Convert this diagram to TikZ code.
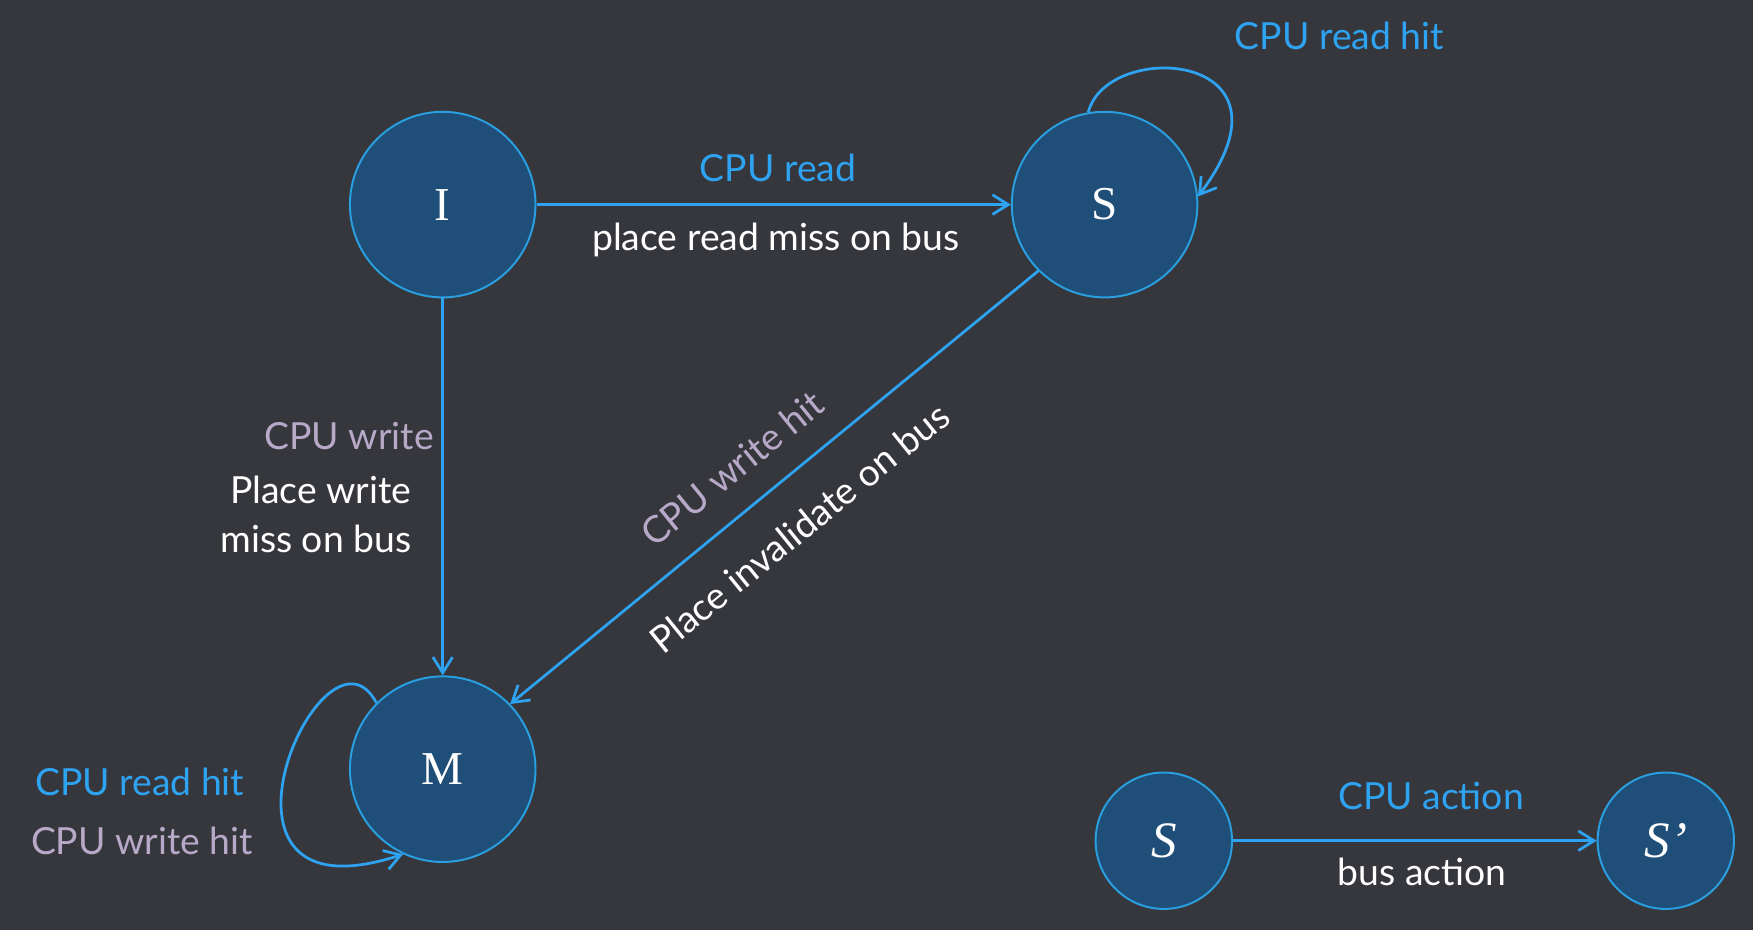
\documentclass[tikz,border=0pt]{standalone}
\usepackage{fontspec}
\setmainfont{Lato}
\usetikzlibrary{arrows.meta}
\definecolor{bg}{HTML}{36373D}
\definecolor{nfill}{HTML}{1F4E79}
\definecolor{nline}{HTML}{2A9FE0}
\definecolor{ablue}{HTML}{2EA3F2}
\definecolor{gp}{HTML}{B8A9C9}
\newfontfamily\serifnode{Liberation Serif}
\begin{document}
\begin{tikzpicture}[x=0.02cm,y=-0.02cm,
 st/.style={circle,draw=nline,fill=nfill,line width=1pt,minimum size=166*0.02cm,inner sep=0pt,text=white,font=\serifnode\fontsize{24}{28}\selectfont},
 sm/.style={st,minimum size=122*0.02cm,font=\serifnode\itshape\fontsize{26}{30}\selectfont},
 ar/.style={draw=ablue,line width=1.4pt,-{Straight Barb[length=8pt,width=10pt]}},
 lb/.style={font=\fontsize{19}{23}\selectfont,inner sep=1pt},
 bl/.style={lb,text=ablue}, wt/.style={lb,text=white}, gr/.style={lb,text=gp}]
\fill[bg] (0,0) rectangle (1568,832);
\useasboundingbox (0,0) rectangle (1568,832);
\node[st] (I) at (396,183) {I};
\node[st] (S) at (988,183) {S};
\node[st] (M) at (396,688) {M};
\node[sm] (a) at (1041,752) {S};
\node[sm] (b) at (1490,752) {S’};
\draw[ar] (I) -- (S);
\draw[ar] (I) -- (M);
\draw[ar] (S.225) -- (M.44);
\draw[ar] (a) -- (b);
\draw[ar] (S.100) .. controls (990,35) and (1170,45) .. (S.5);
\draw[ar] (M.135) .. controls (290,540) and (160,830) .. (M.245);
\node[bl] (t1) at (1198,32) {CPU read hit};
\node[bl] (t2) at (696,150) {CPU read};
\node[wt] (t3) at (694,215) {place read miss on bus};
\node[gr,anchor=east] (t4) at (390,390) {CPU write};
\node[wt,anchor=east,align=right] (t5) at (370,460) {Place write\\[2pt]miss on bus};
\node[gr,rotate=39] (t6) at (655,419) {CPU write hit};
\node[wt,rotate=39] (t7) at (715,472) {Place invalidate on bus};
\node[bl] (t8) at (125,699) {CPU read hit};
\node[gr] (t9) at (127,752) {CPU write hit};
\node[bl] (t10) at (1280,712) {CPU action};
\node[wt] (t11) at (1272,780) {bus action};
\end{tikzpicture}
\end{document}
